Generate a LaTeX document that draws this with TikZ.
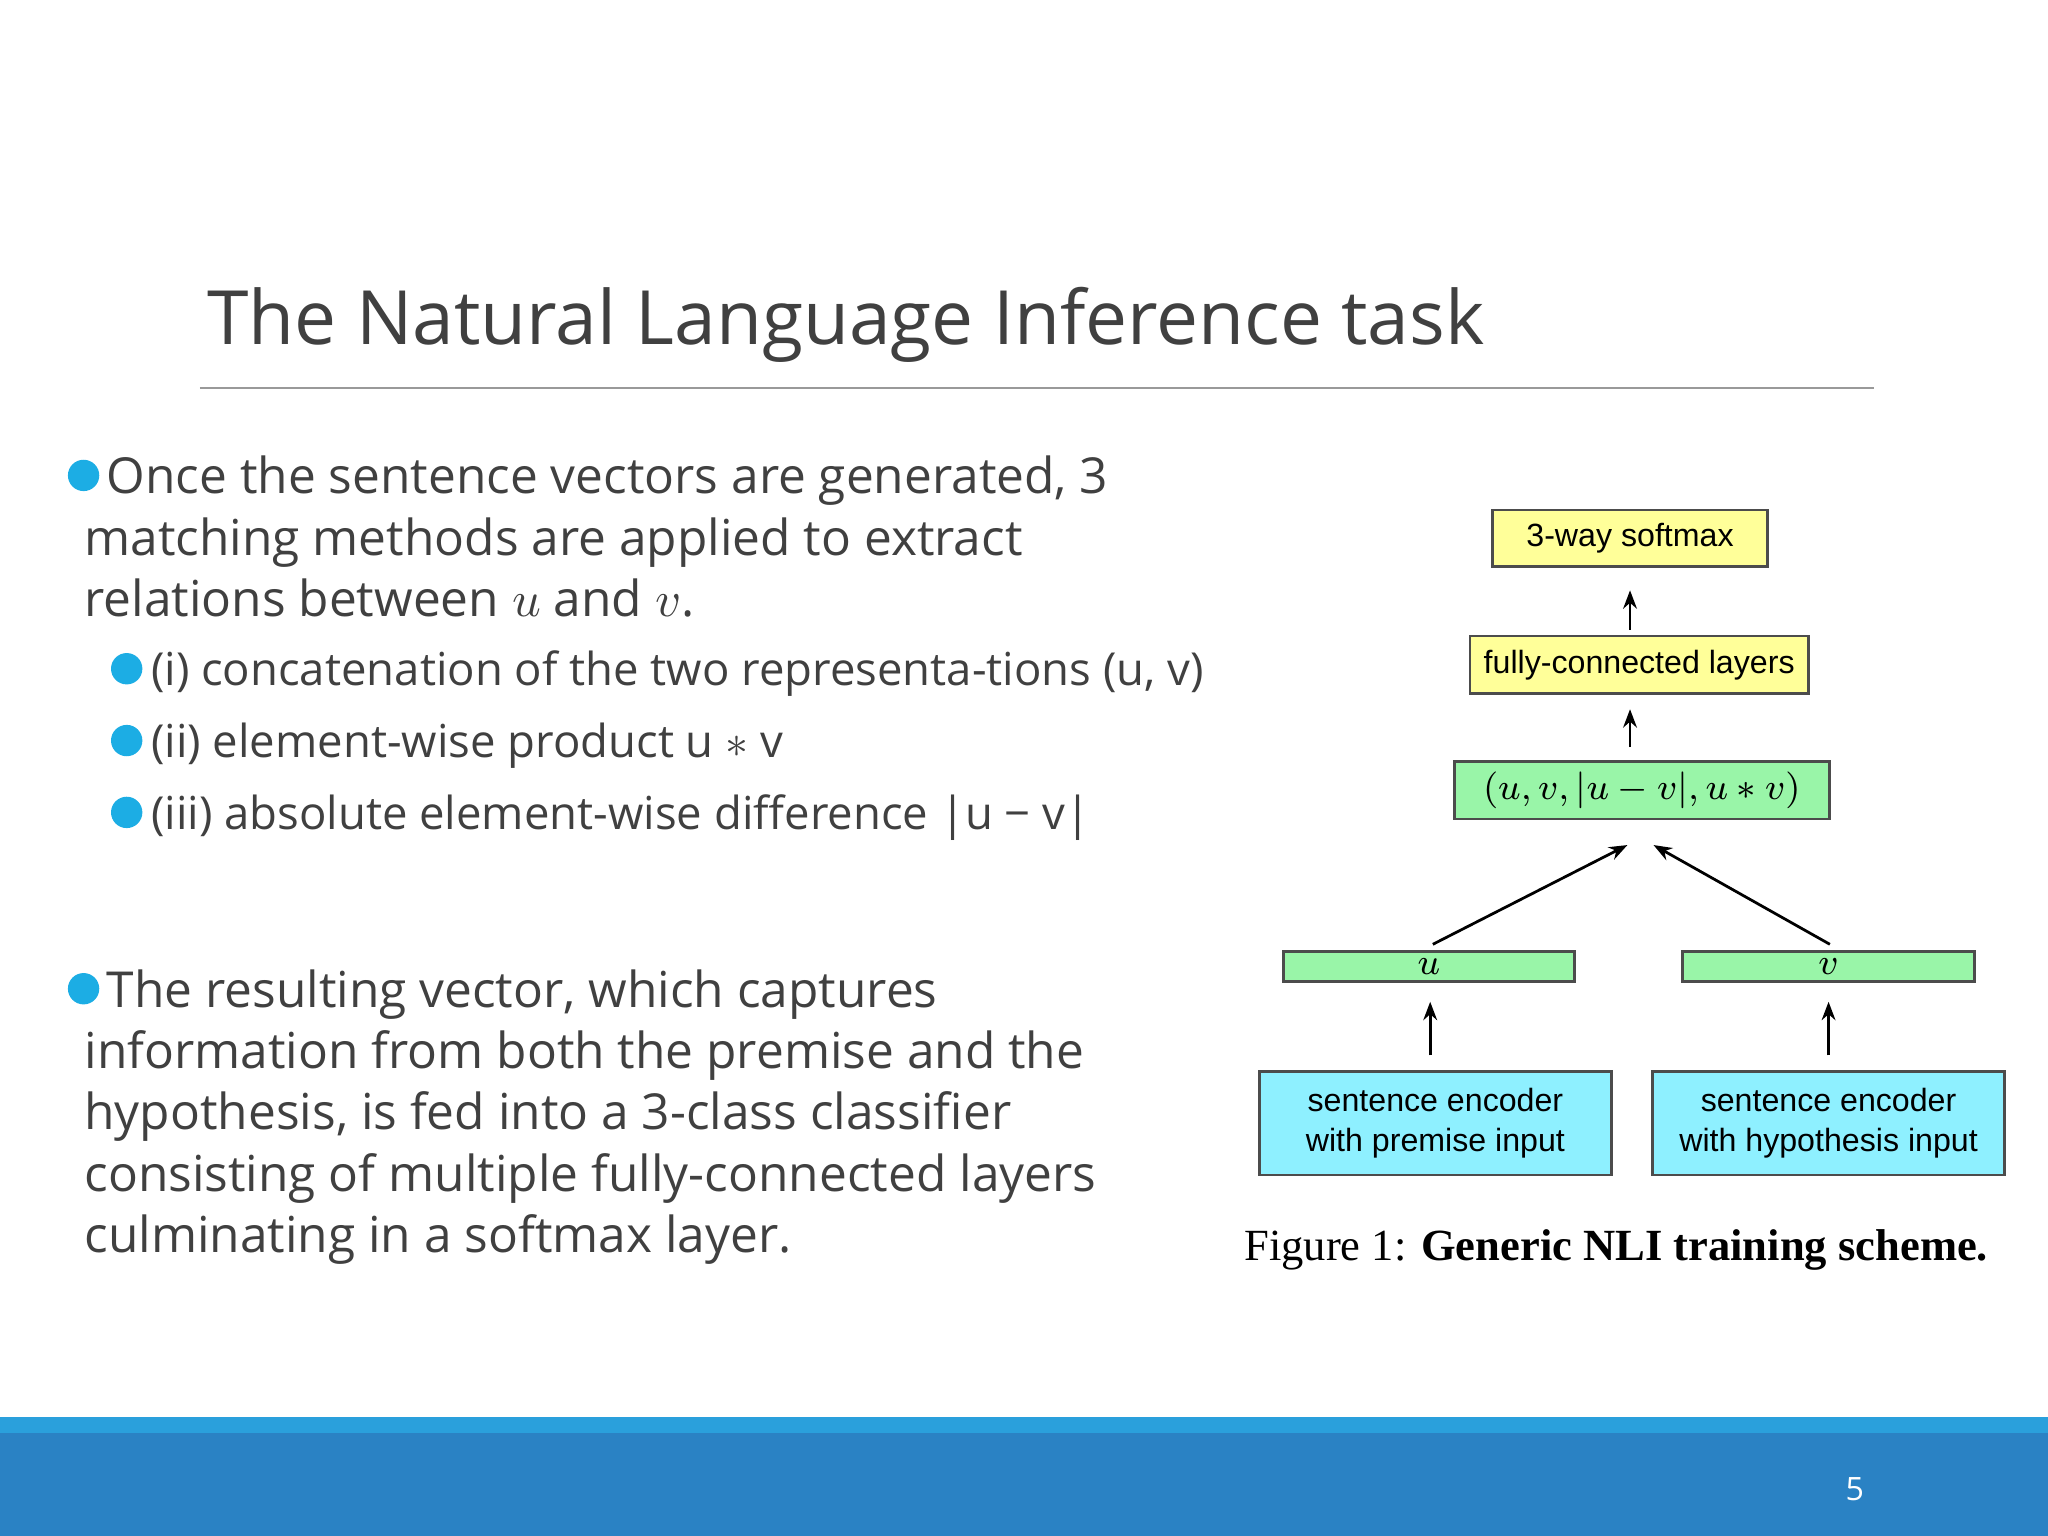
\documentclass[tikz,border=0pt]{standalone}
\usepackage{fontspec}
\setmainfont{Open Sans}
\newfontfamily\diag{Liberation Sans}
\newfontfamily\capt{Liberation Serif}
\usetikzlibrary{arrows.meta}
\definecolor{txt}{HTML}{404040}
\definecolor{bul}{HTML}{1CADE4}
\definecolor{barA}{HTML}{2AA0DC}
\definecolor{barB}{HTML}{2A82C4}
\definecolor{yel}{HTML}{FFFF99}
\definecolor{grn}{HTML}{99F5A8}
\definecolor{cyn}{HTML}{8EF0FF}
\begin{document}
\begin{tikzpicture}[x=0.01cm,y=-0.01cm,
  body/.style={anchor=base west,inner sep=0,text=txt,font=\fontsize{10.8}{13}\selectfont},
  sub/.style={anchor=base west,inner sep=0,text=txt,font=\fontsize{9.9}{12}\selectfont},
  bullet/.style={circle,fill=bul,minimum size=0.24cm,inner sep=0},
  box/.style={draw=black!70,line width=0.6pt,inner sep=0,font=\diag\fontsize{7}{8.6}\selectfont,align=center},
  arr/.style={-{Stealth[length=4pt,width=3pt]},line width=0.6pt}]
\useasboundingbox (0,0) rectangle (1568,1176);
\fill[barA] (0,1085) rectangle (1568,1097);
\fill[barB] (0,1097) rectangle (1568,1176);
\node[text=white,font=\fontsize{7}{8}\selectfont] (pg) at (1420,1140) {5};
\node[anchor=base west,inner sep=0,text=txt,font=\fontsize{16.3}{20}\selectfont] (title) at (158,264) {The Natural Language Inference task};
\draw[gray!80,line width=0.6pt] (153,297) -- (1435,297);
% left text
\node[bullet] (b1) at (64,364) {};
\node[body] (t1) at (81,378) {Once the sentence vectors are generated, 3};
\node[body] (t2) at (64,425) {matching methods are applied to extract};
\node[body] (t3) at (64,472) {relations between $u$ and $v$.};
\node[bullet] (s1) at (97,512) {};
\node[sub] (u1) at (115,525) {(i) concatenation of the two representa-tions (u, v)};
\node[bullet] (s2) at (97,567) {};
\node[sub] (u2) at (115,580) {(ii) element-wise product u $*$ v};
\node[bullet] (s3) at (97,622) {};
\node[sub] (u3) at (115,635) {(iii) absolute element-wise difference |u − v|};
\node[bullet] (b2) at (64,757) {};
\node[body] (r1) at (81,771) {The resulting vector, which captures};
\node[body] (r2) at (64,818) {information from both the premise and the};
\node[body] (r3) at (64,865) {hypothesis, is fed into a 3-class classifier};
\node[body] (r4) at (64,912) {consisting of multiple fully-connected layers};
\node[body] (r5) at (64,959) {culminating in a softmax layer.};
% diagram
\node[box,fill=yel,minimum width=2.10cm,minimum height=0.43cm] (sm) at (1248,412) {3-way softmax};
\node[box,fill=yel,minimum width=2.59cm,minimum height=0.44cm] (fc) at (1255,509) {fully-connected layers};
\node[box,fill=grn,minimum width=2.87cm,minimum height=0.44cm,font=\fontsize{8.5}{10}\selectfont] (cat) at (1257,605) {$(u,v,|u-v|,u*v)$};
\node[box,fill=grn,minimum width=2.23cm,minimum height=0.23cm,font=\fontsize{8.5}{8}\selectfont] (u) at (1094,740) {$u$};
\node[box,fill=grn,minimum width=2.23cm,minimum height=0.23cm,font=\fontsize{8.5}{8}\selectfont] (v) at (1400,740) {$v$};
\node[box,fill=cyn,minimum width=2.69cm,minimum height=0.79cm] (e1) at (1099,860) {sentence encoder\\with premise input};
\node[box,fill=cyn,minimum width=2.69cm,minimum height=0.79cm] (e2) at (1400,860) {sentence encoder\\with hypothesis input};
\coordinate (a1s) at (1248,482); \coordinate (a1e) at (1248,452);
\coordinate (a2s) at (1248,572); \coordinate (a2e) at (1248,543);
\coordinate (cl) at (1246,647); \coordinate (cr) at (1266,647);
\coordinate (us) at (1097,723); \coordinate (vs) at (1401,723);
\coordinate (e1t) at (1095,808); \coordinate (e1a) at (1095,767);
\coordinate (e2t) at (1400,808); \coordinate (e2a) at (1400,767);
\draw[arr] (a1s) -- (a1e);
\draw[arr] (a2s) -- (a2e);
\draw[arr] (us) -- (cl);
\draw[arr] (vs) -- (cr);
\draw[arr] (e1t) -- (e1a);
\draw[arr] (e2t) -- (e2a);
\node[anchor=base west,inner sep=0,font=\capt\fontsize{9.7}{12}\selectfont] (cap) at (952,965) {Figure 1: \textbf{Generic NLI training scheme.}};
\end{tikzpicture}
\end{document}
